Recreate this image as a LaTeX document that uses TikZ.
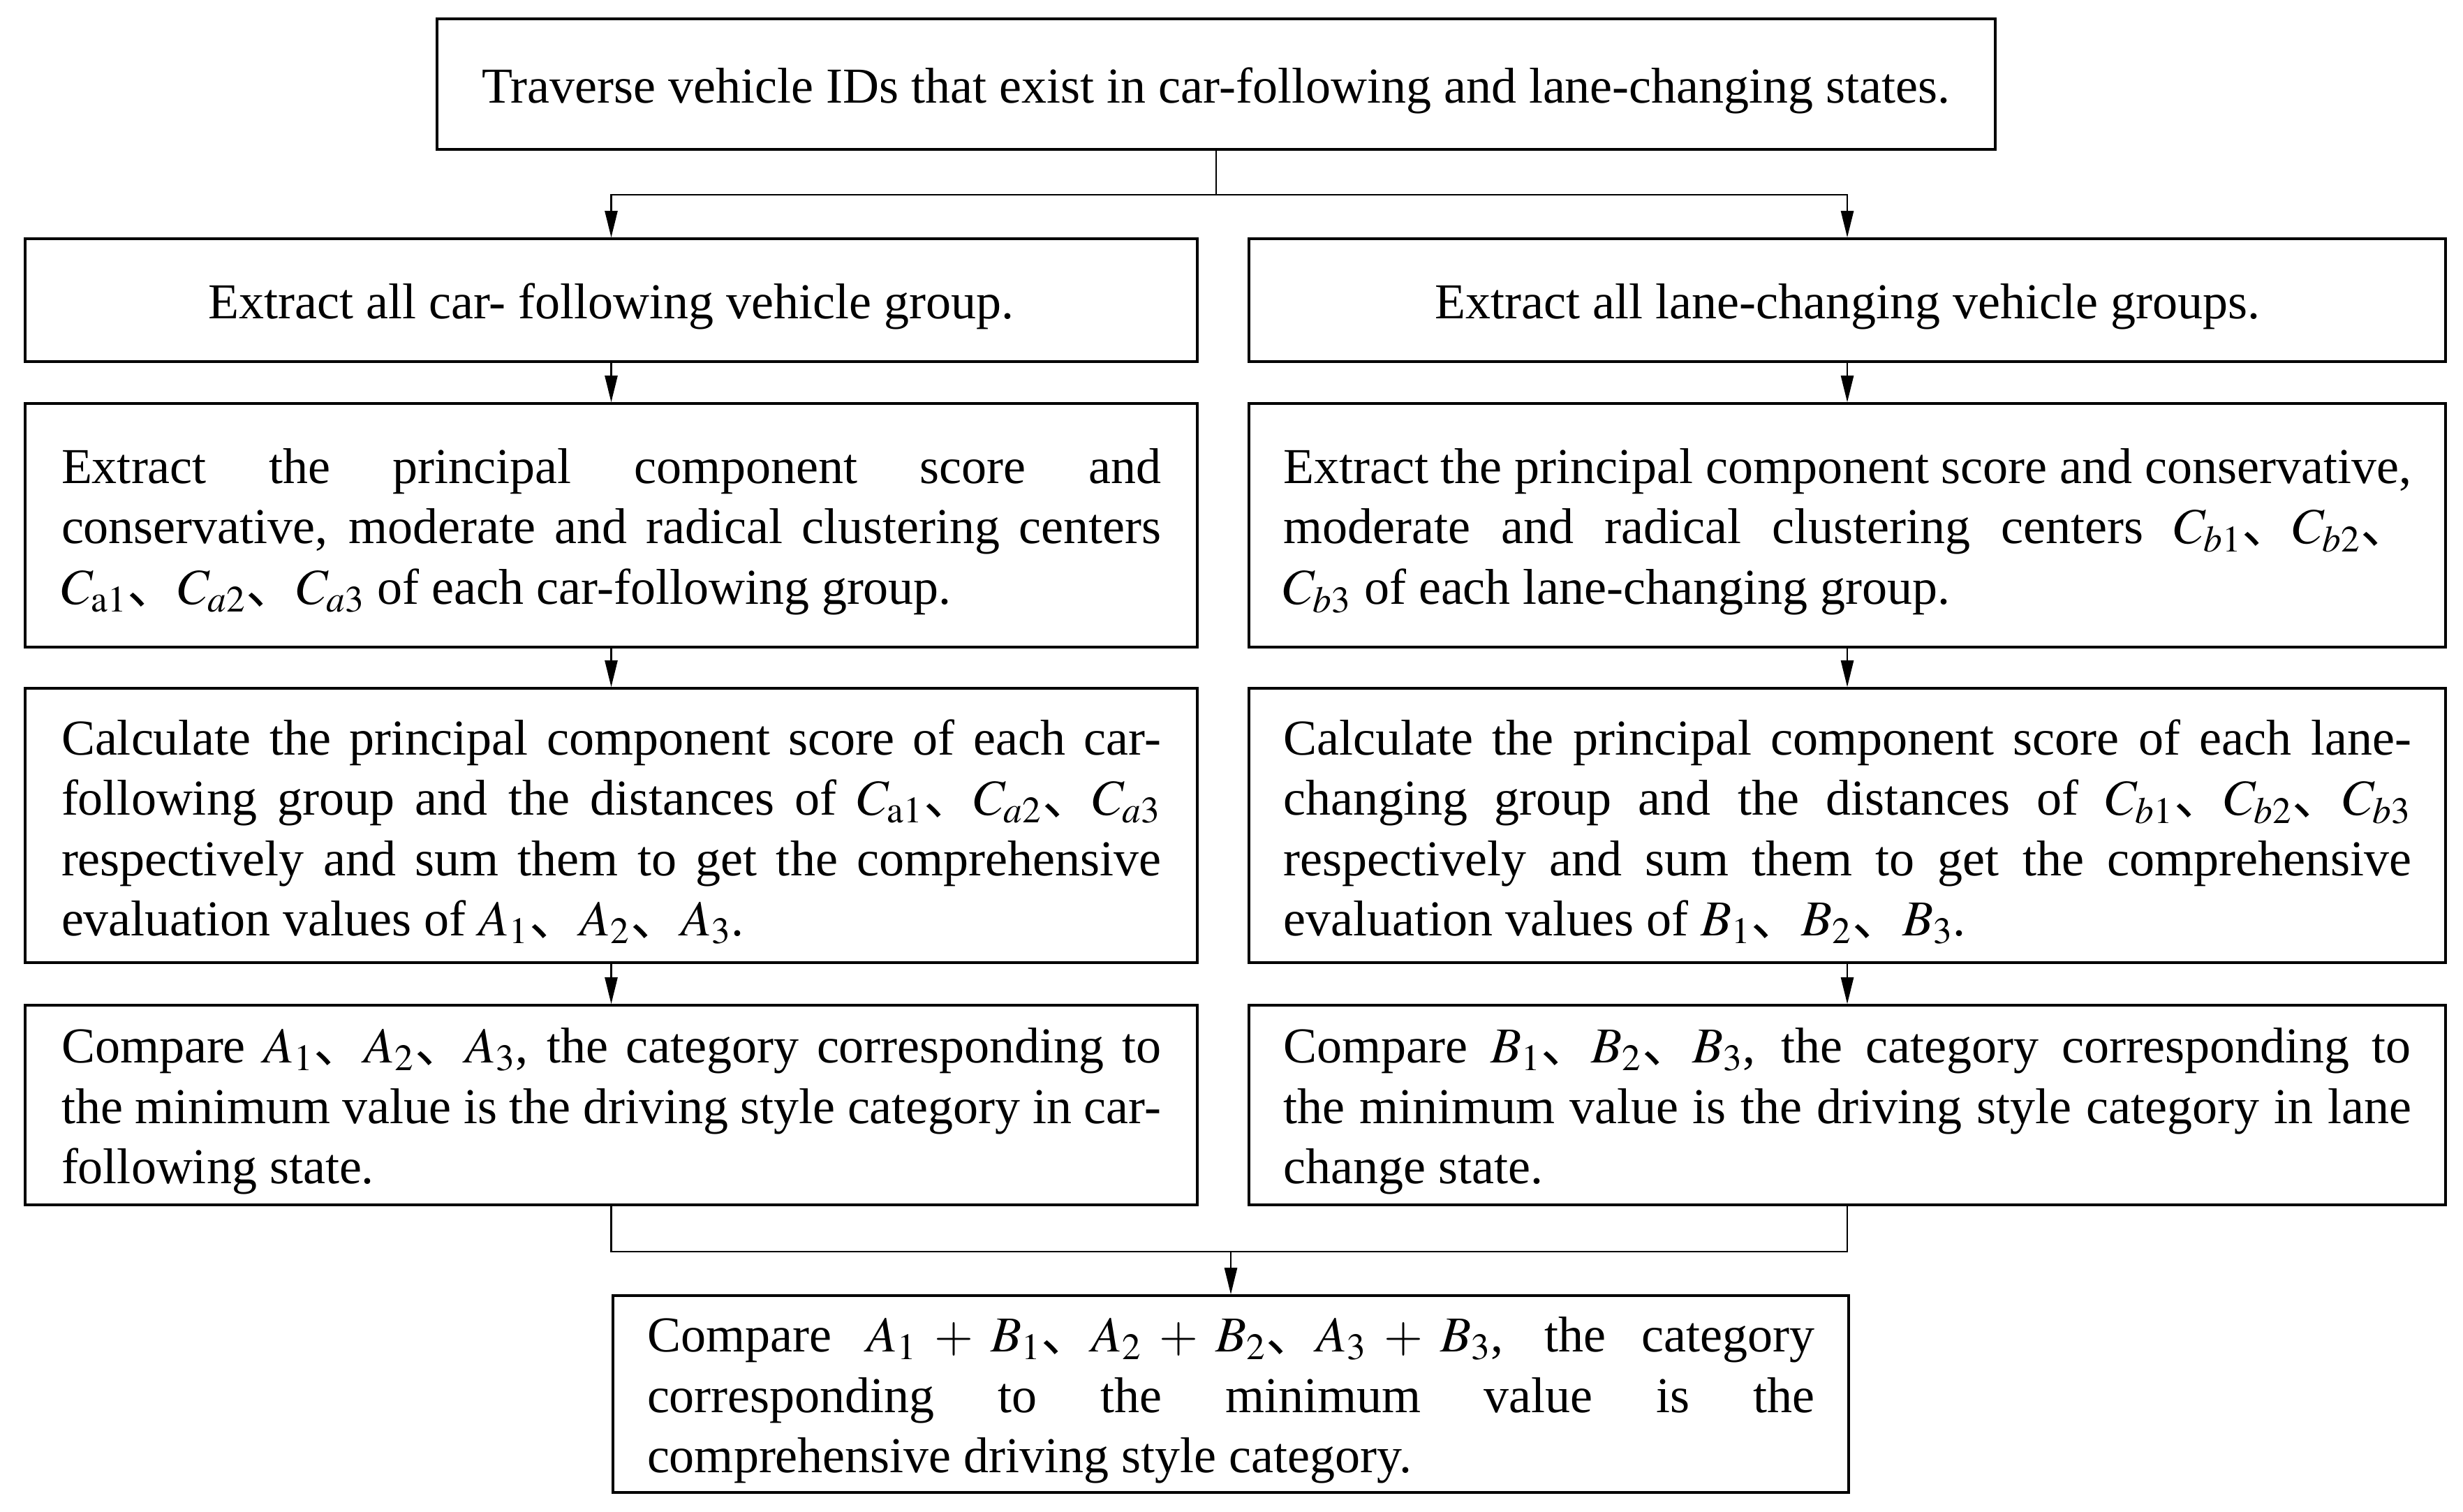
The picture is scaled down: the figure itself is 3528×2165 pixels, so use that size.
\documentclass[tikz,border=0pt]{standalone}
\usepackage{mathptmx}
\usepackage{fontspec}
\setmainfont{Liberation Serif}
\newfontfamily\cjk{Noto Sans CJK SC}
\newcommand{\dun}{{\cjk 、}}
\newcommand{\dn}[1]{\raisebox{-2.25pt}[\height][\depth]{#1}}
\usetikzlibrary{arrows.meta}
\begin{document}
\begin{tikzpicture}[x=0.25pt,y=-0.25pt,
  box/.style={draw, line width=0.9pt, rectangle, inner sep=0pt, font=\fontsize{18}{21.65}\selectfont},
  conn/.style={line width=0.6pt},
  arr/.style={conn,-{Triangle[length=9.5pt,width=4.5pt]}}]
\useasboundingbox (0,0) rectangle (3528,2165);
\node[box, minimum width=558pt, minimum height=46.75pt] (top) at (1742,120.5)
  {\dn{Traverse vehicle IDs that exist in car-following and lane-changing states.}};
\node[box, minimum width=419.75pt, minimum height=44pt] (L1) at (875.5,430)
  {\dn{Extract all car- following vehicle group.}};
\node[box, minimum width=428.5pt, minimum height=44pt] (R1) at (2646,430)
  {\dn{Extract all lane-changing vehicle groups.}};
\node[box, minimum width=419.75pt, minimum height=87.25pt] (L2) at (875.5,752.5)
  {\dn{\parbox{393.75pt}{Extract the principal component score and\linebreak
   conservative, moderate and radical clustering centers\linebreak
   $C_{\mathrm{a}1}$\dun$C_{a2}$\dun$C_{a3}$ of each car-following group.}}};
\node[box, minimum width=428.5pt, minimum height=87.25pt] (R2) at (2646,752.5)
  {\dn{\parbox{403.9pt}{Extract the principal component score and conservative,\linebreak
   moderate and radical clustering centers $C_{b1}$\dun$C_{b2}$\dun\linebreak
   $C_{b3}$ of each lane-changing group.}}};
\node[box, minimum width=419.75pt, minimum height=98.25pt] (L3) at (875.5,1182.5)
  {\dn{\parbox{393.75pt}{Calculate the principal component score of each car-\linebreak
   following group and the distances of $C_{\mathrm{a}1}$\dun$C_{a2}$\dun$C_{a3}$\linebreak
   respectively and sum them to get the comprehensive\linebreak
   evaluation values of $A_1$\dun$A_2$\dun$A_3$.}}};
\node[box, minimum width=428.5pt, minimum height=98.25pt] (R3) at (2646,1182.5)
  {\dn{\parbox{403.9pt}{Calculate the principal component score of each lane-\linebreak
   changing group and the distances of $C_{b1}$\dun$C_{b2}$\dun$C_{b3}$\linebreak
   respectively and sum them to get the comprehensive\linebreak
   evaluation values of $B_1$\dun$B_2$\dun$B_3$.}}};
\node[box, minimum width=419.75pt, minimum height=71.5pt] (L4) at (875.5,1583)
  {\dn{\parbox{393.75pt}{Compare $A_1$\dun$A_2$\dun$A_3$, the category corresponding to\linebreak
   the minimum value is the driving style category in car-\linebreak
   following state.}}};
\node[box, minimum width=428.5pt, minimum height=71.5pt] (R4) at (2646,1583)
  {\dn{\parbox{403.9pt}{Compare $B_1$\dun$B_2$\dun$B_3$, the category corresponding to\linebreak
   the minimum value is the driving style category in lane\linebreak
   change state.}}};
\node[box, minimum width=442.5pt, minimum height=70.5pt] (B) at (1763,1997)
  {\dn{\parbox{418pt}{Compare $A_1+B_1$\dun$A_2+B_2$\dun$A_3+B_3$, the category\linebreak
   corresponding to the minimum value is the\linebreak
   comprehensive driving style category.}}};
\path (top.south) ++(0,63) coordinate (split);
\draw[conn] (top.south) -- (split);
\draw[arr] (split) -| (L1.north);
\draw[arr] (split) -| (R1.north);
\draw[arr] (L1.south) -- (L2.north);
\draw[arr] (R1.south) -- (R2.north);
\draw[arr] (L2.south) -- (L3.north);
\draw[arr] (R2.south) -- (R3.north);
\draw[arr] (L3.south) -- (L4.north);
\draw[arr] (R3.south) -- (R4.north);
\path (L4.south) ++(0,65) coordinate (mergeL);
\draw[conn] (L4.south) -- (mergeL) -| (R4.south);
\draw[arr] (mergeL -| B.north) -- (B.north);
\end{tikzpicture}
\end{document}
